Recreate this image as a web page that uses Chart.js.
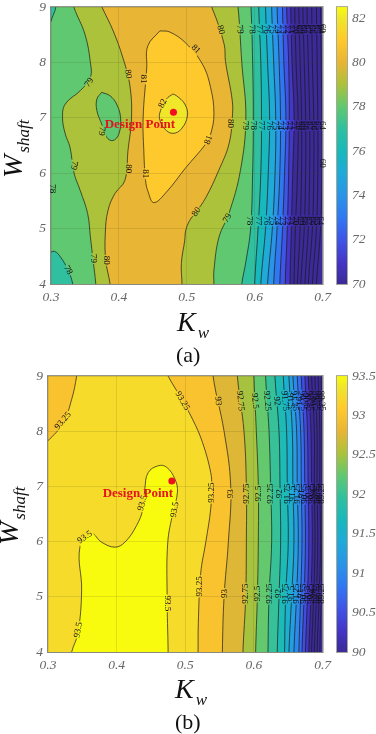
<!DOCTYPE html>
<html>
<head>
<meta charset="utf-8">
<script src="https://cdn.jsdelivr.net/npm/chart.js@4/dist/chart.umd.min.js"></script>
<style>
html, body { margin: 0; padding: 0; background: #fff; overflow: hidden; }
canvas { position: absolute; }
.t { position: absolute; font-family: "Liberation Serif", serif; color: #111; white-space: nowrap; line-height: 1; }
.big { font-size: 28px; font-style: italic; }
.big span { font-size: 17px; position: relative; top: 7px; margin-left: 2px; }
.cap { font-size: 22px; }
.rot { transform-origin: 0 0; transform: rotate(-90deg); }
</style>
</head>
<body>
<canvas id="plotA" width="336" height="314" style="left:0;top:-6px"></canvas>
<canvas id="barA" width="46" height="314" style="left:330px;top:-6px"></canvas>
<canvas id="plotB" width="336" height="313" style="left:0;top:363px"></canvas>
<canvas id="barB" width="46" height="313" style="left:330px;top:363px"></canvas>
<div class="t big" style="left:177px;top:308px">K<span>w</span></div>
<div class="t cap" style="left:176px;top:344px">(a)</div>
<div class="t big rot" style="left:-1px;top:178px">W<span>shaft</span></div>
<div class="t big" style="left:175px;top:675px">K<span>w</span></div>
<div class="t cap" style="left:175px;top:711px">(b)</div>
<div class="t big rot" style="left:-5px;top:545px">W<span>shaft</span></div>
<script>
// colormap stops, position 0..1 and colour
var cmapPos = [0, .08, .16, .24, .32, .4, .48, .56, .64, .72, .8, .88, .96, 1];
var cmapCol = ['#3b2a98', '#4436c8', '#3f55e6', '#3078f2', '#2a94e8', '#1faad8', '#18b8bc', '#30c0a0',
               '#60c870', '#abc23a', '#e8b534', '#fec92c', '#f0e62a', '#f9fb0e'];

var rowsW = [9, 8, 7, 6, 5, 4];
var tickKw = [0.3, 0.4, 0.5, 0.6, 0.7];

// ---- plot (a): contours as [Kw, Wshaft] ----
var levelsRightA = [77, 76, 75, 74, 73, 72, 71, 70, 69, 68, 67, 66, 65, 64];
var rightKwA = [
    [.606, .609, .610, .609, .605, .600],
    [.616, .619, .622, .620, .616, .609],
    [.625, .628, .631, .630, .626, .619],
    [.633, .636, .638, .637, .633, .628],
    [.641, .643, .646, .644, .641, .637],
    [.647, .650, .651, .650, .648, .645],
    [.653, .655, .658, .656, .654, .652],
    [.659, .661, .664, .663, .660, .658],
    [.665, .667, .669, .669, .667, .663],
    [.671, .673, .675, .675, .673, .668],
    [.677, .679, .681, .681, .679, .674],
    [.684, .685, .687, .687, .685, .679],
    [.691, .692, .693, .693, .691, .685],
    [.697, .698, .699, .699, .697, .691]
];
var ring78A = [[.592,9.4],[.5946,9],[.597,8],[.598,7],[.597,6],[.594,5],[.587,4.4],[.581,4],[.578,3.6],[.335,3.6],[.332,4],
    [.325,4.25],[.315,4.47],[.305,4.59],[.295,4.55],[.28,4.6],[.28,8.6],[.295,8.65],[.303,8.85],[.307,9],[.309,9.4]];
var ring79A = [[.57,9.4],[.5755,9],[.581,8],[.587,7],[.579,6.05],[.562,5.27],[.5475,4.85],[.54,4.25],[.54,4],[.54,3.6],
    [.368,3.6],[.366,4],[.362,4.43],[.358,4.85],[.354,5.27],[.343,5.69],[.334,6],[.328,6.47],[.321,6.71],[.317,7],[.321,7.25],
    [.343,7.49],[.358,7.73],[.358,8],[.35,8.51],[.334,8.99],[.325,9.4]];
var island79A = [[.3746,7.46],[.3868,7.4],[.3966,7.25],[.4025,7],[.4,6.71],[.3912,6.59],[.382,6.65],[.3746,6.89],[.3676,7.13],[.3676,7.34],[.3746,7.46]];
var ring80A = [[.52,9.4],[.5367,9],[.555,8.33],[.557,8.02],[.567,7.31],[.567,7],[.5622,6.53],[.547,6.05],[.528,5.56],[.5132,5.29],
    [.5044,5.15],[.4985,4.97],[.497,4.79],[.492,4.37],[.493,4],[.493,3.6],[.39,3.6],[.387,4],[.3806,4.43],[.38,4.92],[.384,5.33],
    [.394,5.63],[.4088,5.87],[.4134,6.41],[.4186,7],[.416,7.6],[.406,8.08],[.3916,8.57],[.375,9],[.36,9.4]];
var ring81A = [[.4603,8.57],[.475,8.55],[.4985,8.35],[.523,7.97],[.535,7.55],[.54,7.07],[.535,6.7],[.528,6.53],[.4985,6.1],[.47,5.66],
    [.4515,5.47],[.4429,5.67],[.4393,5.87],[.4367,6.41],[.4357,7],[.441,7.9],[.4426,8.3],[.4603,8.57]];
var ring82A = [[.4794,7.43],[.4848,7.4],[.497,7.25],[.501,7.04],[.492,6.8],[.4794,6.72],[.4676,6.8],[.46,6.98],[.4613,7.13],[.47,7.34],[.4794,7.43]];
var labelsA = [
    ['79', .3563, 7.64, -55], ['80', .4137, 7.79, 80], ['81', .4357, 7.7, 90], ['82', .4647, 7.26, -65],
    ['79', .3746, 6.76, 95], ['79', .334, 6.14, 100], ['80', .4137, 6.08, 90], ['81', .4393, 5.99, 90],
    ['78', .3025, 5.72, 90], ['78', .325, 4.25, 60], ['79', .3618, 4.46, 90], ['80', .382, 4.43, 90],
    ['80', .5143, 5.3, -55], ['79', .5598, 5.19, -60], ['81', .5132, 8.24, 45], ['81', .532, 6.6, -70],
    ['80', .55, 8.59, 75], ['80', .5647, 6.9, 90], ['79', .578, 8.6, 85], ['78', .596, 8.6, 85],
    ['79', .587, 6.86, 90], ['78', .598, 6.86, 90], ['78', .592, 5.14, 90], ['60', .7, 8.62, 90], ['60', .7, 6.18, 90]
];
var labelRowsA = [8.6, 6.86, 5.14];
var labelRowAngleA = [85, 90, 90];

// ---- plot (b) ----
var levelsRightB = [93, 92.75, 92.5, 92.25, 92, 91.75, 91.5, 91.25, 91, 90.75, 90.5, 90.25, 90, 89.75, 89.5, 89.25];
var rightKwB = [
    [.5405, .5565, .5662, .5628, .5565, .554],
    [.5759, .5855, .589, .589, .588, .584],
    [.600, .6035, .6064, .6064, .605, .6025],
    [.617, .622, .6243, .6258, .622, .6205],
    [.6306, .6365, .638, .6389, .6365, .634],
    [.6428, .6476, .6486, .65, .6462, .6447],
    [.651, .6559, .6568, .6583, .6549, .651],
    [.6568, .6622, .6631, .6646, .662, .6583],
    [.6631, .668, .669, .670, .668, .6655],
    [.669, .673, .674, .675, .673, .670],
    [.6743, .678, .679, .680, .678, .675],
    [.6791, .683, .684, .685, .683, .680],
    [.684, .688, .688, .689, .687, .684],
    [.6888, .692, .692, .693, .691, .688],
    [.6937, .696, .696, .697, .695, .692],
    [.698, .699, .699, .699, .698, .696]
];
var ring9325B = [[.345,9.4],[.3417,9],[.3345,8.58],[.322,8.15],[.3,7.83],[.27,7.5],[.2,7.5],[.2,3.6],[.518,3.6],[.5186,4],[.519,4.52],
    [.5225,5.43],[.53,6],[.5371,6.6],[.5385,7],[.5371,7.25],[.525,7.8],[.5105,8.22],[.492,8.64],[.475,9],[.46,9.4]];
var ring935B = [[.33,3.6],[.3345,4],[.3436,4.34],[.349,5.12],[.3465,5.9],[.3635,6.14],[.378,5.99],[.3975,5.9],[.412,5.99],[.429,6.29],
    [.4385,6.6],[.4411,6.96],[.4459,7.25],[.4605,7.375],[.4726,7.35],[.4847,7.14],[.4886,6.9],[.482,6.53],[.4745,5.99],[.4735,5.03],[.475,4],[.475,3.6]];
var labelsB = [
    ['93.25', .3218, 8.19, -50], ['93.25', .4959, 8.55, 60], ['93.5', .4377, 6.7, -75], ['93.5', .4847, 6.58, -80],
    ['93.5', .3538, 6.08, -35], ['93.5', .3441, 4.4, -80], ['93.5', .4735, 4.88, 90], ['93.25', .5385, 6.89, -90],
    ['93.25', .5211, 5.19, -90]
];
var labelRowsB = [8.55, 6.87, 5.06];
var labelRowAngleB = [85, -90, -90];

var tickFont = { family: '"Liberation Serif", serif', size: 13.5, style: 'italic' };

function hexRgb(h) {
    return [parseInt(h.substr(1, 2), 16), parseInt(h.substr(3, 2), 16), parseInt(h.substr(5, 2), 16)];
}

function cmap(t) {
    t = Math.max(0, Math.min(1, t));
    for (var i = 1; i < cmapPos.length; i++) {
        if (t <= cmapPos[i]) {
            var f = (t - cmapPos[i - 1]) / (cmapPos[i] - cmapPos[i - 1]);
            var a = hexRgb(cmapCol[i - 1]), b = hexRgb(cmapCol[i]);
            return 'rgb(' + a.map(function(v, k) { return Math.round(v + (b[k] - v) * f); }).join(',') + ')';
        }
    }
    return cmapCol[cmapCol.length - 1];
}

function toPoints(ring) {
    return ring.map(function(p) { return { x: p[0], y: p[1] }; });
}

// closes a right-hand contour round the left of the plot (outside the clip area)
function rowsToRing(kws) {
    var ring = [[kws[0], 9.4]];
    kws.forEach(function(k, i) { ring.push([k, rowsW[i]]); });
    ring.push([kws[kws.length - 1], 3.6], [.2, 3.6], [.2, 9.4]);
    return ring;
}

// line labels in the three rows where the original has them
function rowLabels(levels, table, rows, angles) {
    var out = [];
    levels.forEach(function(level, n) {
        rows.forEach(function(w, r) {
            for (var i = 0; i < rowsW.length - 1; i++) {
                if (w <= rowsW[i] && w >= rowsW[i + 1]) {
                    var k = table[n][i] + (table[n][i + 1] - table[n][i]) * (rowsW[i] - w);
                    out.push([String(level), k, w, angles[r]]);
                    break;
                }
            }
        });
    });
    return out;
}

function contourPlugin(labels) {
    return {
        id: 'contourExtras',
        beforeDatasetsDraw: function(chart) {
            var a = chart.chartArea, ctx = chart.ctx;
            ctx.fillStyle = cmap(0);
            ctx.fillRect(a.left, a.top, a.right - a.left, a.bottom - a.top);
        },
        // break the line where its own label sits
        beforeDatasetDraw: function(chart, args) {
            var level = chart.data.datasets[args.index].level;
            if (level === undefined) return;
            var ctx = chart.ctx, sx = chart.scales.x, sy = chart.scales.y;
            ctx.save();
            ctx.font = '9px "Liberation Serif", serif';
            ctx.beginPath();
            ctx.rect(0, 0, chart.width, chart.height);
            labels.forEach(function(l) {
                if (l[0] !== String(level)) return;
                var cx = sx.getPixelForValue(l[1]), cy = sy.getPixelForValue(l[2]);
                var r = l[3] * Math.PI / 180, c = Math.cos(r), s = Math.sin(r);
                var hw = ctx.measureText(l[0]).width / 2 + 1, hh = 5;
                ctx.moveTo(cx - hw * c + hh * s, cy - hw * s - hh * c);
                ctx.lineTo(cx + hw * c + hh * s, cy + hw * s - hh * c);
                ctx.lineTo(cx + hw * c - hh * s, cy + hw * s + hh * c);
                ctx.lineTo(cx - hw * c - hh * s, cy - hw * s + hh * c);
                ctx.closePath();
            });
            ctx.clip('evenodd');
        },
        afterDatasetDraw: function(chart, args) {
            if (chart.data.datasets[args.index].level !== undefined) chart.ctx.restore();
        },
        afterDraw: function(chart) {
            var ctx = chart.ctx, a = chart.chartArea, sx = chart.scales.x, sy = chart.scales.y;
            ctx.strokeStyle = '#8a8a80';
            ctx.lineWidth = 1;
            ctx.strokeRect(a.left - .5, a.top - .5, a.right - a.left + 1, a.bottom - a.top + 1);
            ctx.fillStyle = '#111';
            ctx.font = '9px "Liberation Serif", serif';
            ctx.textAlign = 'center';
            ctx.textBaseline = 'middle';
            labels.forEach(function(l) {
                ctx.save();
                ctx.translate(sx.getPixelForValue(l[1]), sy.getPixelForValue(l[2]));
                ctx.rotate(l[3] * Math.PI / 180);
                ctx.fillText(l[0], 0, 0);
                ctx.restore();
            });
            ctx.fillStyle = '#e3141c';
            ctx.font = 'bold 13px "Liberation Serif", serif';
            ctx.fillText('Design Point', sx.getPixelForValue(.4309), sy.getPixelForValue(6.87));
        }
    };
}

function drawPlot(id, rings, labels, bandMin, bandMax, leftPx) {
    // ascending levels are painted over each other, so they go last-to-first in the dataset list
    var sets = rings.map(function(r) {
        return {
            level: r.level,
            data: toPoints(r.ring),
            showLine: true,
            fill: 'shape',
            backgroundColor: cmap((r.band - bandMin) / (bandMax - bandMin)),
            borderColor: '#1a1a1a',
            borderWidth: .7,
            tension: .4,
            pointRadius: 0
        };
    }).reverse();
    sets.unshift({
        data: [{ x: .4804, y: 7.1 }],
        pointRadius: 3.5,
        pointBackgroundColor: '#f01020',
        pointBorderWidth: 0,
        showLine: false
    });
    new Chart(document.getElementById(id), {
        type: 'scatter',
        data: { datasets: sets },
        options: {
            responsive: false,
            animation: false,
            layout: { padding: { top: 12, right: 13, left: 0, bottom: 0 } },
            elements: { line: { capBezierPoints: false } },
            plugins: { legend: { display: false }, tooltip: { enabled: false } },
            scales: {
                x: {
                    type: 'linear', min: .3, max: .7,
                    afterBuildTicks: function(s) { s.ticks = tickKw.map(function(v) { return { value: v }; }); },
                    afterFit: function(s) { s.height = 24; },
                    ticks: { font: tickFont, color: '#666', padding: 5, maxRotation: 0,
                        callback: function(v) { return v.toFixed(1); } },
                    grid: { color: 'rgba(70,70,30,.14)', z: 1, drawTicks: false },
                    border: { display: false }
                },
                y: {
                    type: 'linear', min: 4, max: 9,
                    afterFit: function(s) { s.width = leftPx; },
                    ticks: { font: tickFont, color: '#666', padding: 5, stepSize: 1 },
                    grid: { color: 'rgba(70,70,30,.14)', z: 1, drawTicks: false },
                    border: { display: false }
                }
            }
        },
        plugins: [contourPlugin(labels)]
    });
}

function drawColorbar(id, lo, hi, step, ticksTop) {
    new Chart(document.getElementById(id), {
        type: 'bar',
        data: {
            labels: [''],
            datasets: [{
                data: [[lo, hi]],
                barPercentage: 1,
                categoryPercentage: 1,
                backgroundColor: function(c) {
                    var a = c.chart.chartArea;
                    if (!a) return '#888';
                    var g = c.chart.ctx.createLinearGradient(0, a.bottom, 0, a.top);
                    cmapPos.forEach(function(p, i) { g.addColorStop(p, cmapCol[i]); });
                    return g;
                }
            }]
        },
        options: {
            responsive: false,
            animation: false,
            layout: { padding: { top: 12, bottom: ticksTop, left: 7, right: 0 } },
            plugins: { legend: { display: false }, tooltip: { enabled: false } },
            scales: {
                x: { display: false },
                y: {
                    position: 'right', min: lo, max: hi,
                    afterFit: function(s) { s.width = 29; },
                    ticks: { font: tickFont, color: '#666', padding: 5, stepSize: step, includeBounds: false,
                        callback: function(v) { return String(v); } },
                    grid: { display: false, drawTicks: false },
                    border: { display: false }
                }
            }
        },
        plugins: [{
            id: 'frame',
            afterDraw: function(chart) {
                var a = chart.chartArea, ctx = chart.ctx;
                ctx.strokeStyle = '#a8a898';
                ctx.strokeRect(a.left - .5, a.top - .5, a.right - a.left + 1, a.bottom - a.top + 1);
            }
        }]
    });
}

var ringsA = levelsRightA.map(function(l, i) {
    return { level: l, band: l, ring: rowsToRing(rightKwA[i]) };
}).reverse().concat([
    { level: 78, band: 78, ring: ring78A },
    { level: 79, band: 79, ring: ring79A },
    { level: 79, band: 78, ring: island79A },
    { level: 80, band: 80, ring: ring80A },
    { level: 81, band: 81, ring: ring81A },
    { level: 82, band: 82, ring: ring82A }
]);

var ringsB = levelsRightB.map(function(l, i) {
    return { level: l, band: l, ring: rowsToRing(rightKwB[i]) };
}).reverse().concat([
    { level: 93.25, band: 93.25, ring: ring9325B },
    { level: 93.5, band: 93.5, ring: ring935B }
]);

drawPlot('plotA', ringsA, labelsA.concat(rowLabels(levelsRightA, rightKwA, labelRowsA, labelRowAngleA)), 70, 82.5, 51);
drawPlot('plotB', ringsB, labelsB.concat(rowLabels(levelsRightB, rightKwB, labelRowsB, labelRowAngleB)), 90, 93.5, 48);
drawColorbar('barA', 70, 82.5, 2, 24);
drawColorbar('barB', 90, 93.5, .5, 24);
</script>
</body>
</html>
